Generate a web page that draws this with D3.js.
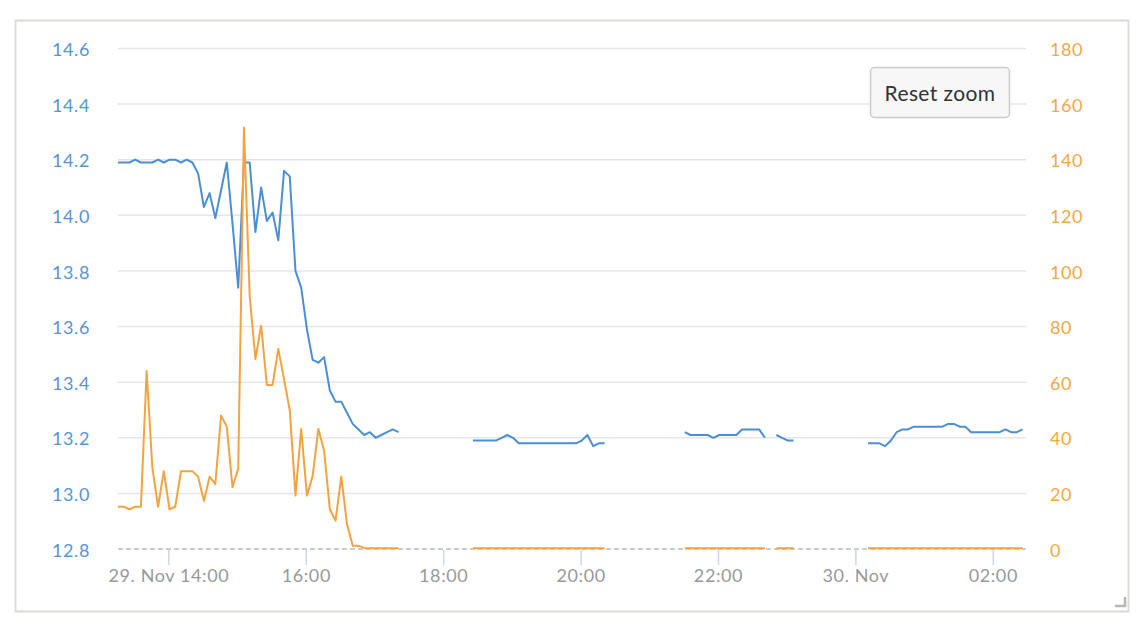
<!DOCTYPE html>
<html>
<head>
<meta charset="utf-8">
<script src="https://cdn.jsdelivr.net/npm/d3@7"></script>
<style>
  body { margin: 0; background: #fff; }
  svg { display: block; font-family: Lato, "Open Sans", sans-serif; }
</style>
</head>
<body>
<svg id="chart" width="1144" height="628"></svg>
<script>
// readings every 5 minutes starting 29 Nov 13:16, null = no reading
var startTime = new Date(2016, 10, 29, 13, 16);
var endTime = new Date(2016, 10, 30, 2, 29);
var stepMinutes = 5;

var voltage = [
  14.19, 14.19, 14.19, 14.20, 14.19, 14.19, 14.19, 14.20, 14.19, 14.20,
  14.20, 14.19, 14.20, 14.19, 14.15, 14.03, 14.08, 13.99, 14.09, 14.19,
  13.97, 13.74, 14.19, 14.19, 13.94, 14.10, 13.98, 14.01, 13.91, 14.16,
  14.14, 13.80, 13.74, 13.59, 13.48, 13.47, 13.49, 13.37, 13.33, 13.33,
  13.29, 13.25, 13.23, 13.21, 13.22, 13.20, 13.21, 13.22, 13.23, 13.22,
  null, null, null, null, null, null, null, null, null, null,
  null, null, 13.19, 13.19, 13.19, 13.19, 13.19, 13.20, 13.21, 13.20,
  13.18, 13.18, 13.18, 13.18, 13.18, 13.18, 13.18, 13.18, 13.18, 13.18,
  13.18, 13.19, 13.21, 13.17, 13.18, 13.18, null, null, null, null,
  null, null, null, null, null, null, null, null, null, 13.22,
  13.21, 13.21, 13.21, 13.21, 13.20, 13.21, 13.21, 13.21, 13.21, 13.23,
  13.23, 13.23, 13.23, 13.20, null, 13.21, 13.20, 13.19, 13.19, null,
  null, null, null, null, null, null, null, null, null, null,
  null, 13.18, 13.18, 13.18, 13.17, 13.19, 13.22, 13.23, 13.23, 13.24,
  13.24, 13.24, 13.24, 13.24, 13.24, 13.25, 13.25, 13.24, 13.24, 13.22,
  13.22, 13.22, 13.22, 13.22, 13.22, 13.23, 13.22, 13.22, 13.23
];

var current = [
  15.2, 15.2, 14.3, 15.2, 15.2, 64, 29.3, 15.2, 28, 14.3,
  15.2, 28, 28, 28, 26, 17.3, 26, 23.3, 48, 44,
  22.2, 29, 151.6, 91, 68.3, 80.3, 59, 59, 72, 61,
  50, 19.2, 43.2, 19.2, 26.3, 43.2, 35.3, 14.3, 10.2, 26,
  9, 1.2, 1.2, 0.4, 0.3, 0.3, 0.3, 0.3, 0.3, 0.3,
  null, null, null, null, null, null, null, null, null, null,
  null, null, 0.3, 0.3, 0.3, 0.3, 0.3, 0.3, 0.3, 0.3,
  0.3, 0.3, 0.3, 0.3, 0.3, 0.3, 0.3, 0.3, 0.3, 0.3,
  0.3, 0.3, 0.3, 0.3, 0.3, 0.3, null, null, null, null,
  null, null, null, null, null, null, null, null, null, 0.3,
  0.3, 0.3, 0.3, 0.3, 0.3, 0.3, 0.3, 0.3, 0.3, 0.3,
  0.3, 0.3, 0.3, 0.3, null, 0.3, 0.3, 0.3, 0.3, null,
  null, null, null, null, null, null, null, null, null, null,
  null, 0.3, 0.3, 0.3, 0.3, 0.3, 0.3, 0.3, 0.3, 0.3,
  0.3, 0.3, 0.3, 0.3, 0.3, 0.3, 0.3, 0.3, 0.3, 0.3,
  0.3, 0.3, 0.3, 0.3, 0.3, 0.3, 0.3, 0.3, 0.3
];

var voltTicks = [12.8, 13.0, 13.2, 13.4, 13.6, 13.8, 14.0, 14.2, 14.4, 14.6];
var currentTicks = [0, 20, 40, 60, 80, 100, 120, 140, 160, 180];
var xTickTimes = [
  new Date(2016, 10, 29, 14, 0),
  new Date(2016, 10, 29, 16, 0),
  new Date(2016, 10, 29, 18, 0),
  new Date(2016, 10, 29, 20, 0),
  new Date(2016, 10, 29, 22, 0),
  new Date(2016, 10, 30, 0, 0),
  new Date(2016, 10, 30, 2, 0)
];
var xTickLabels = ["29. Nov 14:00", "16:00", "18:00", "20:00", "22:00", "30. Nov", "02:00"];

var blue = "#4a8fd4";
var orange = "#f5a33f";

function draw() {
  var svg = d3.select("#chart");
  var left = 118, right = 1026, top = 48.5, bottom = 549;

  // chart frame
  svg.append("rect")
    .attr("x", 15.5).attr("y", 20.5)
    .attr("width", 1113).attr("height", 591)
    .attr("fill", "#fff")
    .attr("stroke", "#dcdcd7")
    .attr("stroke-width", 2);

  svg.append("path")
    .attr("d", "M1125,597V606H1115")
    .attr("fill", "none")
    .attr("stroke", "#b8b8b8")
    .attr("stroke-width", 2.5);

  var x = d3.scaleTime().domain([startTime, endTime]).range([left, right]);
  var yL = d3.scaleLinear().domain([12.8, 14.6]).range([bottom, top]);
  var yR = d3.scaleLinear().domain([0, 180]).range([bottom, top]);

  var times = voltage.map(function (v, i) {
    return d3.timeMinute.offset(startTime, i * stepMinutes);
  });

  // grid
  svg.append("g")
    .selectAll("line")
    .data(voltTicks.slice(1))
    .enter()
    .append("line")
    .attr("x1", left).attr("x2", right)
    .attr("y1", function (d) { return yL(d); })
    .attr("y2", function (d) { return yL(d); })
    .attr("stroke", "#e6e6e6")
    .attr("stroke-width", 1.5);

  svg.append("line")
    .attr("x1", left).attr("x2", right)
    .attr("y1", yL(12.8)).attr("y2", yL(12.8))
    .attr("stroke", "#9a9a9a")
    .attr("stroke-width", 1)
    .attr("stroke-dasharray", "5,3");

  // x axis
  var xAxis = svg.append("g")
    .attr("transform", "translate(0," + bottom + ")")
    .call(d3.axisBottom(x)
      .tickValues(xTickTimes)
      .tickSize(16)
      .tickPadding(6)
      .tickFormat(function (d, i) { return xTickLabels[i]; }));
  xAxis.select(".domain").remove();
  xAxis.selectAll(".tick line").attr("stroke", "#ccd6eb").attr("stroke-width", 1.5).attr("y1", 1);
  xAxis.selectAll(".tick text")
    .attr("fill", "#999")
    .attr("font-size", 18)
    .attr("letter-spacing", "0.6px")
    .attr("font-family", "Lato, sans-serif")
    .attr("y", 27)
    .attr("dy", "0.35em");

  // left axis
  var yAxisL = svg.append("g")
    .attr("transform", "translate(" + left + ",0)")
    .call(d3.axisLeft(yL)
      .tickValues(voltTicks)
      .tickSize(0)
      .tickPadding(28)
      .tickFormat(d3.format(".1f")));
  yAxisL.select(".domain").remove();
  yAxisL.selectAll(".tick text")
    .attr("fill", "#5596d6")
    .attr("font-size", 18)
    .attr("letter-spacing", "0.6px")
    .attr("font-family", "Lato, sans-serif")
    .attr("dy", "0.4em");

  // right axis
  var yAxisR = svg.append("g")
    .attr("transform", "translate(" + right + ",0)")
    .call(d3.axisRight(yR)
      .tickValues(currentTicks)
      .tickSize(0)
      .tickPadding(24));
  yAxisR.select(".domain").remove();
  yAxisR.selectAll(".tick text")
    .attr("fill", "#f5a843")
    .attr("font-size", 18)
    .attr("letter-spacing", "0.6px")
    .attr("font-family", "Lato, sans-serif")
    .attr("dy", "0.4em");

  // series
  svg.append("clipPath").attr("id", "plot")
    .append("rect")
    .attr("x", left).attr("y", top - 10)
    .attr("width", right - left).attr("height", bottom - top + 12);

  var lineL = d3.line()
    .defined(function (d) { return d != null; })
    .x(function (d, i) { return x(times[i]); })
    .y(function (d) { return yL(d); });

  var lineR = d3.line()
    .defined(function (d) { return d != null; })
    .x(function (d, i) { return x(times[i]); })
    .y(function (d) { return yR(d); });

  var series = svg.append("g").attr("clip-path", "url(#plot)");

  series.append("path")
    .datum(voltage)
    .attr("d", lineL)
    .attr("fill", "none")
    .attr("stroke", blue)
    .attr("stroke-width", 2)
    .attr("stroke-linejoin", "round");

  series.append("path")
    .datum(current)
    .attr("d", lineR)
    .attr("fill", "none")
    .attr("stroke", orange)
    .attr("stroke-width", 2)
    .attr("stroke-linejoin", "round");

  // reset zoom button
  var btn = svg.append("g").attr("transform", "translate(870.5,67.5)");
  btn.append("rect")
    .attr("width", 139).attr("height", 50)
    .attr("rx", 4)
    .attr("fill", "#f7f7f7")
    .attr("stroke", "#cccccc")
    .attr("stroke-width", 1.5);
  btn.append("text")
    .attr("x", 69.5).attr("y", 26)
    .attr("dy", "0.35em")
    .attr("text-anchor", "middle")
    .attr("fill", "#333")
    .attr("font-size", 21)
    .attr("letter-spacing", "0.4px")
    .text("Reset zoom");
}

draw();
</script>
</body>
</html>
